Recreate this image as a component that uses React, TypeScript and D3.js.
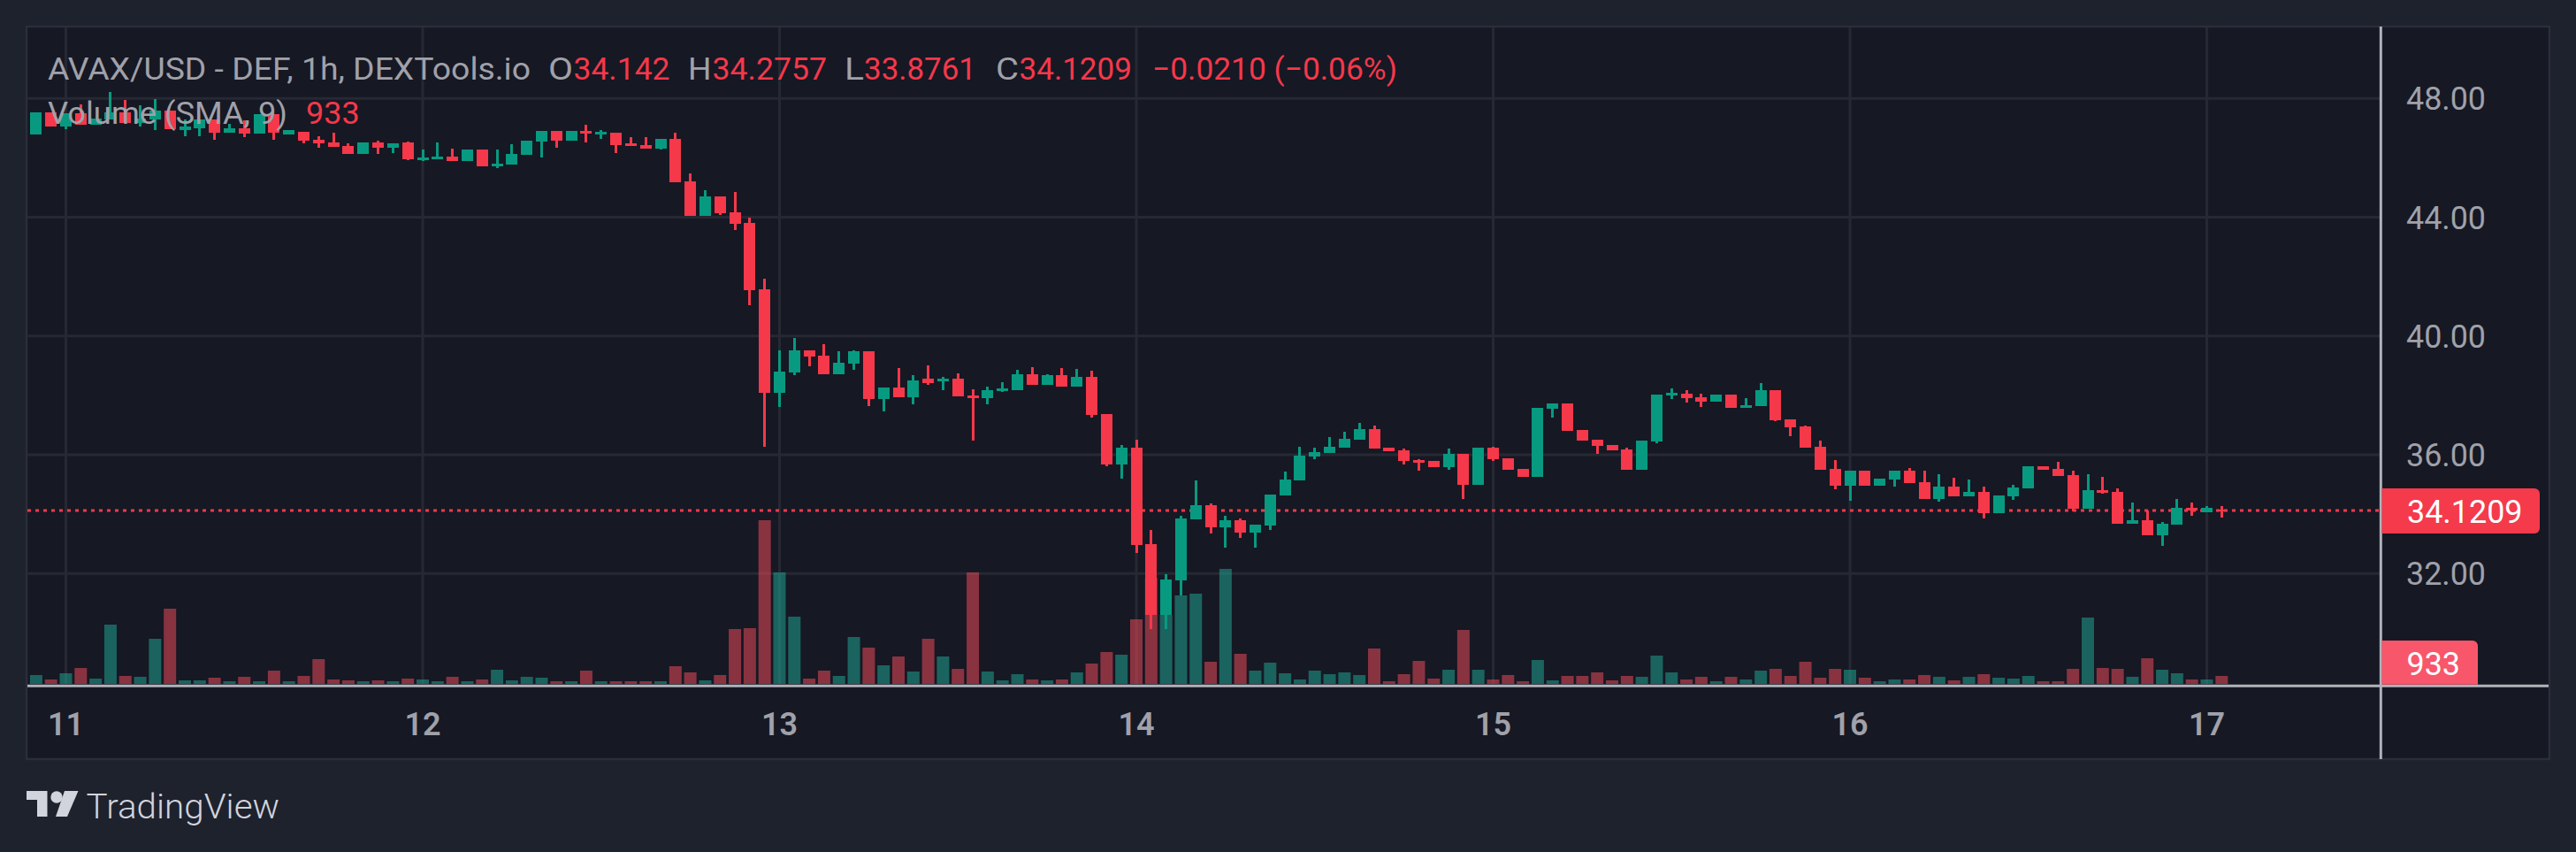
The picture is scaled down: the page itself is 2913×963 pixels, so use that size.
import React from "react";
import * as d3 from "d3";

const opens = [
  46.55,46.79,47.53,47.06,47.50,47.12,47.29,47.53,47.18,47.29,
  47.59,46.94,47.00,47.29,46.85,47.00,46.82,47.47,46.79,46.88,
  46.61,46.52,46.40,46.13,46.52,46.34,46.52,45.92,45.95,46.04,
  45.89,46.28,45.71,45.77,46.10,46.55,46.91,46.58,46.91,46.79,
  46.85,46.49,46.43,46.31,46.64,45.21,44.05,44.70,44.17,43.81,
  41.57,38.09,38.77,39.52,39.34,38.71,39.07,39.49,37.88,38.27,
  37.94,38.56,38.47,38.56,38.00,37.91,38.15,38.17,38.71,38.35,
  38.68,38.29,38.62,37.37,35.67,36.24,32.99,30.61,31.77,33.83,
  34.30,33.56,33.80,33.38,33.62,34.63,35.14,35.94,36.06,36.24,
  36.51,36.87,36.24,36.15,35.82,35.79,35.58,36.03,34.99,36.24,
  35.88,35.53,35.26,37.55,37.73,36.84,36.51,36.33,36.18,35.50,
  36.45,38.00,38.06,37.94,37.79,38.03,37.58,37.64,38.17,37.19,
  36.95,36.27,35.53,34.96,35.47,34.96,35.17,35.47,35.08,34.51,
  34.93,34.60,34.75,34.03,34.60,34.87,35.61,35.53,35.32,34.18,
  34.81,34.75,33.68,33.80,33.29,33.65,34.21,34.06,34.142,
];
const highs = [
  46.82,47.53,47.53,47.50,47.80,47.32,48.22,47.95,47.77,47.98,
  47.59,47.29,47.29,47.29,47.15,47.26,47.47,47.47,46.94,46.88,
  46.73,46.85,46.49,46.52,46.58,46.49,46.55,46.28,46.52,46.31,
  46.28,46.28,46.28,46.46,46.58,46.91,46.91,46.91,47.12,46.94,
  46.85,46.70,46.70,46.64,46.85,45.48,44.91,44.70,44.85,43.99,
  41.93,39.52,39.93,39.52,39.73,39.49,39.52,39.49,38.27,38.92,
  38.68,39.01,38.62,38.74,38.21,38.29,38.44,38.86,38.95,38.71,
  38.92,38.89,38.83,37.37,36.33,36.51,33.47,31.98,33.94,35.14,
  34.36,33.94,33.86,33.65,34.66,35.44,36.27,36.24,36.60,36.78,
  37.07,36.98,36.24,36.21,35.85,35.79,36.21,36.03,36.24,36.27,
  35.88,35.53,37.58,37.73,37.73,36.84,36.51,36.33,36.24,36.48,
  38.03,38.24,38.17,38.06,38.03,38.03,37.91,38.41,38.17,37.19,
  36.98,36.48,35.82,35.47,35.47,35.20,35.47,35.55,35.47,35.35,
  35.23,35.17,34.93,34.63,34.99,35.61,35.61,35.76,35.47,35.35,
  35.26,34.87,34.39,34.12,33.74,34.51,34.39,34.27,34.2757,
];
const lows = [
  46.55,46.79,47.06,46.97,47.12,47.12,47.29,47.18,47.06,46.94,
  46.97,46.73,46.73,46.61,46.85,46.70,46.82,46.61,46.79,46.49,
  46.34,46.37,46.13,46.13,46.13,46.16,45.92,45.89,45.95,45.89,
  45.89,45.71,45.66,45.77,46.10,46.01,46.34,46.58,46.52,46.64,
  46.16,46.40,46.31,46.28,45.18,44.05,44.05,44.08,43.57,41.04,
  36.27,37.61,38.68,38.98,38.71,38.71,38.86,37.64,37.46,37.94,
  37.70,38.35,38.17,37.97,36.48,37.70,38.12,38.17,38.35,38.35,
  38.29,38.29,37.25,35.61,35.20,32.69,30.13,30.13,31.26,33.83,
  33.35,32.87,33.20,32.87,33.47,34.63,35.14,35.85,36.06,36.24,
  36.51,36.21,36.12,35.67,35.47,35.58,35.50,34.51,34.99,35.79,
  35.50,35.26,35.26,37.25,36.81,36.48,36.03,36.15,35.50,35.50,
  36.39,37.88,37.76,37.61,37.79,37.58,37.58,37.64,37.13,36.63,
  36.24,35.50,34.84,34.45,34.96,34.96,34.93,35.05,34.51,34.42,
  34.60,34.60,33.86,34.03,34.48,34.87,35.50,35.29,34.09,34.18,
  34.69,33.68,33.68,33.29,32.93,33.65,33.94,34.06,33.8761,
];
const closes = [
  46.82,47.53,47.06,47.50,47.12,47.32,47.53,47.18,47.32,47.59,
  46.97,47.06,47.29,46.85,47.00,46.82,47.47,46.85,46.94,46.58,
  46.49,46.37,46.13,46.52,46.34,46.49,45.95,46.01,46.04,45.89,
  46.28,45.71,45.80,46.13,46.58,46.91,46.58,46.91,46.82,46.88,
  46.43,46.40,46.31,46.64,45.18,44.05,44.70,44.14,43.78,41.54,
  38.09,38.80,39.52,39.31,38.71,39.10,39.49,37.88,38.27,37.94,
  38.50,38.41,38.56,37.97,37.91,38.17,38.24,38.71,38.35,38.68,
  38.29,38.62,37.34,35.67,36.24,32.96,30.61,31.80,33.86,34.30,
  33.56,33.80,33.38,33.65,34.66,35.17,35.97,36.09,36.27,36.54,
  36.87,36.21,36.12,35.79,35.73,35.58,36.03,34.99,36.24,35.85,
  35.50,35.26,37.58,37.73,36.81,36.48,36.30,36.15,35.50,36.48,
  38.03,38.09,37.91,37.79,38.03,37.58,37.67,38.17,37.16,36.92,
  36.24,35.50,34.96,35.47,34.96,35.20,35.47,35.05,34.51,34.93,
  34.60,34.75,34.03,34.63,34.90,35.61,35.50,35.29,34.18,34.81,
  34.72,33.68,33.80,33.29,33.68,34.21,34.12,34.21,34.1209,
];
const volumes = [
  1866,1037,518,1244,1866,622,6947,933,829,5288,
  8813,415,415,726,311,829,311,1555,311,933,
  2903,518,415,311,415,311,622,518,311,829,
  311,518,1659,415,829,726,311,311,1555,311,
  311,311,311,311,2074,1348,415,1037,6428,6532,
  19181,13064,7880,622,1555,933,5495,4251,2177,3214,
  1451,5288,3214,1763,13064,1451,415,1140,518,415,
  518,1348,2385,3732,3421,7569,12442,8087,10368,10575,
  2592,13478,3525,1555,2488,1244,518,1555,1140,1348,
  1037,4147,311,1140,2696,622,1659,6324,1659,518,
  1037,311,2799,415,933,933,1348,415,933,829,
  3318,1348,518,829,311,829,518,1555,1763,933,
  2592,726,1763,1659,726,311,518,518,1037,829,
  415,829,1140,726,622,933,311,311,1763,7776,
  1866,1763,829,3007,1659,1244,518,518,933,
];
const priceTicks = [48, 44, 40, 36, 32];
const dayLabels = ["11", "12", "13", "14", "15", "16", "17"];
const dayBarIndex = [3, 27, 51, 75, 99, 123, 147];
const lastPrice = 34.1209;
const lastVolume = 933;

const UP = "#089a80";
const DOWN = "#f5384a";
const UP_VOL = "#20ae99";
const DOWN_VOL = "#fc4e5b";
const GRID = "#262833";
const AXIS = "#b2b3ba";
const TEXT = "#a0a1a9";
const FONT = "Roboto, sans-serif";

const W = 2913, H = 963;
const x = d3.scaleLinear().domain([3, 147]).range([74.5, 2495.5]);
const y = d3.scaleLinear().domain([48, 32]).range([111.3, 648.3]);
const yVol = d3.scaleLinear().domain([0, 19181]).range([773, 588]);
const fmtTick = d3.format(".2f");

type LabelProps = { x0: number; x1: number; base: number; fill: string; size?: number; weight?: number; children: string };
function Label({ x0, x1, base, fill, size = 35, weight = 400, children }: LabelProps) {
  return (
    <text x={x0} y={base} fill={fill} fontSize={size} fontWeight={weight} fontFamily={FONT}
      textLength={x1 - x0} lengthAdjust="spacingAndGlyphs">{children}</text>
  );
}

export default function App() {
  const bars = opens.map((o, i) => ({ i, o, h: highs[i], l: lows[i], c: closes[i], v: volumes[i], up: closes[i] >= o }));
  return (
    <div style={{ position: "absolute", left: 0, top: 0, width: W, height: H, overflow: "hidden" }}>
      <svg width={W} height={H} style={{ display: "block" }}>
        <defs>
          <clipPath id="pane"><rect x={31} y={31} width={2660} height={743} /></clipPath>
        </defs>
        <rect width={W} height={H} fill="#1e222d" />
        <rect x={30} y={30} width={2853} height={828} fill="#161824" stroke="#2a2d3a" strokeWidth={2.5} />

        <g stroke={GRID} strokeWidth={3}>
          {priceTicks.map(t => <line key={t} x1={31} x2={2691} y1={y(t)} y2={y(t)} />)}
          {dayBarIndex.map(d => <line key={d} x1={x(d)} x2={x(d)} y1={31} y2={773} />)}
        </g>

        <line x1={31} x2={2691} y1={y(lastPrice)} y2={y(lastPrice)} stroke={DOWN} strokeWidth={3} strokeDasharray="4 5" />

        <g clipPath="url(#pane)">
          {bars.map(b => (
            <rect key={b.i} x={x(b.i) - 7} width={14} y={yVol(b.v)} height={yVol(0) - yVol(b.v)}
              fill={b.up ? UP_VOL : DOWN_VOL} fillOpacity={0.5} />
          ))}
          {bars.map(b => {
            const col = b.up ? UP : DOWN;
            const top = y(Math.max(b.o, b.c));
            const bottom = y(Math.min(b.o, b.c));
            return (
              <g key={b.i} fill={col} shapeRendering="crispEdges">
                <rect x={x(b.i) - 1.5} width={3} y={y(b.h)} height={y(b.l) - y(b.h)} />
                <rect x={x(b.i) - 6.5} width={13} y={top} height={Math.max(bottom - top, 2)} />
              </g>
            );
          })}
        </g>

        <line x1={31} x2={2882} y1={775.3} y2={775.3} stroke={AXIS} strokeWidth={3} />
        <line x1={2692.3} x2={2692.3} y1={30} y2={858} stroke={AXIS} strokeWidth={3} />

        {priceTicks.map(t => (
          <Label key={t} x0={2721} x1={2811} base={y(t) + 13} fill={TEXT} size={36}>{fmtTick(t)}</Label>
        ))}
        {dayLabels.map((d, k) => (
          <text key={d} x={x(dayBarIndex[k])} y={831} fill={TEXT} fontSize={36} fontWeight={600}
            fontFamily={FONT} textAnchor="middle">{d}</text>
        ))}

        <path d="M2693.5,552 H2866 a6,6 0 0 1 6,6 V597 a6,6 0 0 1 -6,6 H2693.5 Z" fill="#f43a4b" />
        <Label x0={2722} x1={2852.5} base={590.5} fill="#ffffff" size={36}>34.1209</Label>
        <path d="M2693.5,724 H2796 a6,6 0 0 1 6,6 V773.8 H2693.5 Z" fill="#f8566a" />
        <Label x0={2721.5} x1={2782} base={763} fill="#ffffff" size={36}>{String(lastVolume)}</Label>

        <Label x0={54} x1={600} base={89.5} fill={TEXT}>AVAX/USD - DEF, 1h, DEXTools.io</Label>
        <Label x0={620} x1={648} base={89.5} fill={TEXT}>O</Label>
        <Label x0={648.5} x1={757.5} base={89.5} fill={DOWN}>34.142</Label>
        <Label x0={778} x1={804.5} base={89.5} fill={TEXT}>H</Label>
        <Label x0={805.5} x1={935} base={89.5} fill={DOWN}>34.2757</Label>
        <Label x0={955} x1={977} base={89.5} fill={TEXT}>L</Label>
        <Label x0={977} x1={1104} base={89.5} fill={DOWN}>33.8761</Label>
        <Label x0={1126} x1={1152} base={89.5} fill={TEXT}>C</Label>
        <Label x0={1152.5} x1={1280} base={89.5} fill={DOWN}>34.1209</Label>
        <Label x0={1303} x1={1580} base={89.5} fill={DOWN}>−0.0210 (−0.06%)</Label>
        <Label x0={54} x1={325} base={140} fill={TEXT}>Volume (SMA, 9)</Label>
        <Label x0={346} x1={406.6} base={140} fill={DOWN}>{String(lastVolume)}</Label>

        <g fill="#d1d4dc">
          <path d="M30,894 H53.5 V923 H42 V904 H30 Z" />
          <circle cx={64} cy={901} r={6.7} />
          <path d="M73,894 H88.5 L76,923 H63 Z" />
        </g>
        <text x={97.5} y={925} fill="#d1d4dc" fontSize={39} fontWeight={300} fontFamily={FONT}
          textLength={218.5} lengthAdjust="spacingAndGlyphs">TradingView</text>
      </svg>
    </div>
  );
}
